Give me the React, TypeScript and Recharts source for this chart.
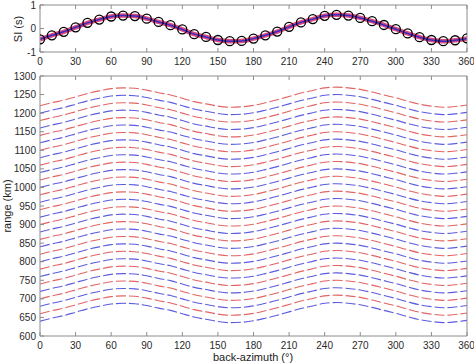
import { LineChart, Line, XAxis, YAxis } from 'recharts';

// back-azimuth samples (degrees)
const azimuths = [
  0, 10, 20, 30, 40, 50, 60, 70, 80, 90, 100, 110, 120, 130, 140, 150, 160, 170, 180,
  190, 200, 210, 220, 230, 240, 250, 260, 270, 280, 290, 300, 310, 320, 330, 340, 350, 360,
];

// splitting intervals
const siValues = [
  -0.46, -0.29, -0.14, 0.05, 0.24, 0.38, 0.51, 0.55, 0.53, 0.42, 0.28, 0.14, -0.04, -0.24,
  -0.36, -0.49, -0.54, -0.53, -0.43, -0.29, -0.13, 0.07, 0.26, 0.4, 0.54, 0.58, 0.55, 0.45,
  0.31, 0.15, -0.03, -0.21, -0.37, -0.49, -0.54, -0.5, -0.42,
];

// mean range of each dashed curve in the lower panel (km), bottom to top
const curveMeans = [
  662, 682, 702, 722, 742, 762, 782, 802, 822, 842, 862, 882, 902, 922, 942,
  962, 982, 1002, 1022, 1042, 1062, 1082, 1102, 1122, 1142, 1162, 1182, 1202, 1222, 1242,
];

// deviation of the curves from their mean vs back-azimuth (km)
const curveShift = [
  -22, -14, -7, 2, 11, 18, 24, 26, 25, 20, 13, 7, -2, -11, -17, -23, -26, -25, -21,
  -14, -6, 3, 12, 19, 26, 28, 26, 22, 15, 7, -1, -10, -18, -23, -26, -24, -20,
];

const azTicks = [0, 30, 60, 90, 120, 150, 180, 210, 240, 270, 300, 330, 360];
const siTicks = [-1, 0, 1];
const rangeTicks = [600, 650, 700, 750, 800, 850, 900, 950, 1000, 1050, 1100, 1150, 1200, 1250, 1300];

const siData = azimuths.map((az, i) => ({ az, si: siValues[i] }));

const rangeData = azimuths.map((az, j) => {
  const row: Record<string, number> = { az };
  curveMeans.forEach((m, i) => {
    row['r' + i] = m + curveShift[j];
  });
  return row;
});

const FONT = '"Liberation Sans", Arial, sans-serif';
const AXIS = '#8c8c8c';
const tickStyle = { fill: '#2a2a2a', fontSize: 10, fontFamily: FONT };

function Frame({ topH, bottomH }: { topH: number; bottomH: number }) {
  return [
    <XAxis key="xb" xAxisId="b" dataKey="az" type="number" domain={[0, 360]} ticks={azTicks}
      allowDataOverflow height={bottomH} stroke={AXIS} tickSize={-4} tickMargin={10} tick={tickStyle} />,
    <XAxis key="xt" xAxisId="t" orientation="top" dataKey="az" type="number" domain={[0, 360]}
      ticks={azTicks} height={topH} stroke={AXIS} tickSize={-4} tickFormatter={() => ''} />,
  ];
}

export default function App() {
  return (
    <div style={{ position: 'absolute', left: 0, top: 0, width: 474, height: 363, background: '#fff', fontFamily: FONT }}>
      <div style={{ position: 'absolute', left: 0, top: 0 }}>
        <LineChart width={474} height={68} data={siData} margin={{ top: 0, right: 0, bottom: 0, left: 0 }}>
          {Frame({ topH: 5, bottomH: 16 })}
          <YAxis yAxisId="l" type="number" domain={[-1, 1]} ticks={siTicks} width={40}
            stroke={AXIS} tickSize={-4} tickMargin={8} tick={tickStyle} />
          <YAxis yAxisId="r" orientation="right" type="number" domain={[-1, 1]} ticks={siTicks} width={7}
            stroke={AXIS} tickSize={-4} tickFormatter={() => ''} />
          <Line xAxisId="b" yAxisId="l" dataKey="si" type="monotone" stroke="#d8286a" strokeOpacity={0.85}
            strokeWidth={4.5} dot={false} isAnimationActive={false} />
          <Line xAxisId="b" yAxisId="l" dataKey="si" type="monotone" stroke="#3a2cc8" strokeWidth={1.5}
            dot={false} isAnimationActive={false} />
          <Line xAxisId="b" yAxisId="l" dataKey="si" stroke="none"
            dot={{ r: 4.5, stroke: '#000', strokeWidth: 1.3, fill: 'none' }} isAnimationActive={false} />
        </LineChart>
      </div>
      <div style={{ position: 'absolute', left: 0, top: 68 }}>
        <LineChart width={474} height={295} data={rangeData} margin={{ top: 0, right: 0, bottom: 0, left: 0 }}>
          {Frame({ topH: 8, bottomH: 27 })}
          <YAxis yAxisId="l" type="number" domain={[600, 1300]} ticks={rangeTicks} width={40}
            stroke={AXIS} tickSize={-4} tickMargin={8} tick={tickStyle} />
          <YAxis yAxisId="r" orientation="right" type="number" domain={[600, 1300]} ticks={rangeTicks} width={7}
            stroke={AXIS} tickSize={-4} tickFormatter={() => ''} />
          {curveMeans.map((_, i) => (
            <Line key={i} xAxisId="b" yAxisId="l" dataKey={'r' + i} type="monotone"
              stroke={i % 2 === 0 ? '#5c5ce0' : '#e46464'} strokeWidth={1.1} strokeDasharray="10 3"
              dot={false} isAnimationActive={false} />
          ))}
        </LineChart>
      </div>
      <div style={{ position: 'absolute', left: 18, top: 29, transform: 'translate(-50%, -50%) rotate(-90deg)',
        fontSize: 11, color: '#222', whiteSpace: 'nowrap' }}>SI (s)</div>
      <div style={{ position: 'absolute', left: 7, top: 206, transform: 'translate(-50%, -50%) rotate(-90deg)',
        fontSize: 11, color: '#222', whiteSpace: 'nowrap' }}>range (km)</div>
      <div style={{ position: 'absolute', left: 253, top: 357, transform: 'translate(-50%, -50%)',
        fontSize: 11, color: '#222', whiteSpace: 'nowrap' }}>back-azimuth (°)</div>
    </div>
  );
}
